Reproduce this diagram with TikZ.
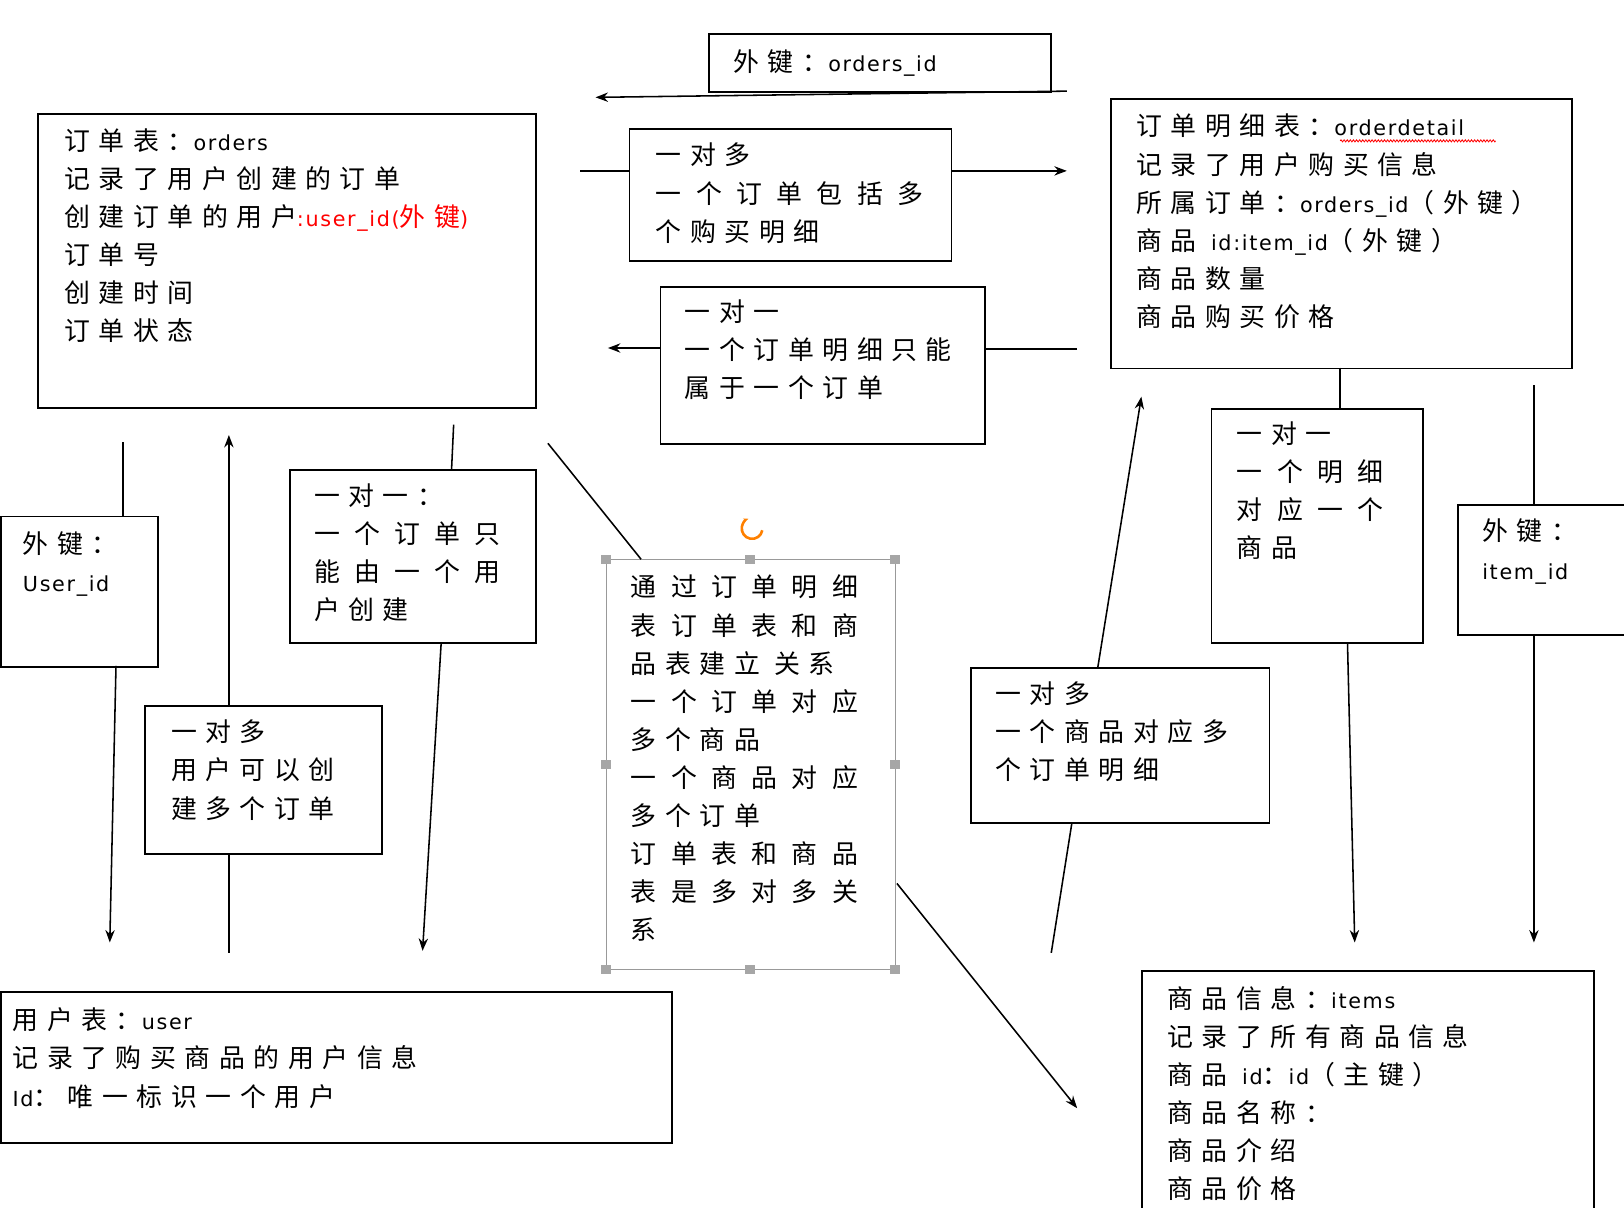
\documentclass[tikz,border=0pt]{standalone}
\usepackage{fontspec}
\setmainfont[LetterSpace=33]{Noto Sans CJK SC}
\newfontfamily\latfont[LetterSpace=8]{DejaVu Sans}
\newcommand\lat[1]{{\latfont\fontsize{20}{36.8}\selectfont #1}}
\usetikzlibrary{arrows.meta,decorations.pathmorphing}

\begin{document}
\begin{tikzpicture}[
                    x=1pt, y=-1pt,
                    >={Stealth[length=12pt,width=9pt]},
                    box/.style={draw=black, line width=1.6pt, anchor=north west, inner sep=0pt},
                    txt/.style={anchor=north west, align=left, inner sep=0pt,
                                font=\fontsize{25}{36.8}\selectfont},
                    link/.style={line width=1.5pt},
                    handle/.style={fill=gray!70, minimum size=9pt, inner sep=0pt}
                ]
                \useasboundingbox (0,0) rectangle (1568,1166);

                % tables
                \node[box, minimum width=481pt, minimum height=284pt] (orders) at (36,109) {};
                \node[txt] (orderstxt) at (62,124) {订单表：\lat{orders}\\记录了用户创建的订单\\创建订单的用户{\color{red}\lat{:user\_id(}外键\lat{)}}\\订单号\\创建时间\\订单状态};
                \node[box, minimum width=445pt, minimum height=260pt] (detail) at (1072,95) {};
                \node[txt] (detailtxt) at (1097,110) {订单明细表：\lat{orderdetail}\\记录了用户购买信息\\所属订单：\lat{orders\_id}（外键）\\商品 \lat{id:item\_id}（外键）\\商品数量\\商品购买价格};
                \draw[red, line width=0.8pt, decorate, decoration={zigzag, segment length=3pt, amplitude=1pt}] (1294,136) -- (1444,136);
                \node[box, minimum width=648pt, minimum height=146pt] (user) at (0,957) {};
                \node[txt] (usertxt) at (12,973) {用户表：\lat{user}\\记录了购买商品的用户信息\\\lat{Id}：唯一标识一个用户};
                \node[box, minimum width=436pt, minimum height=240pt] (items) at (1102,937) {};
                \node[txt] (itemstxt) at (1127,952) {商品信息：\lat{items}\\记录了所有商品信息\\商品 \lat{id}：\lat{id}（主键）\\商品名称：\\商品介绍\\商品价格};

                % keys
                \node[box, minimum width=330pt, minimum height=56pt] (fkorders) at (684,32) {};
                \node[txt] at (708,48) {外键：\lat{orders\_id}};
                \node[box, minimum width=152pt, minimum height=145pt] (fkuser) at (0,498) {};
                \node[txt] at (22,513) {外键：\\\lat{User\_id}};
                \node[box, minimum width=161pt, minimum height=125pt] (fkitem) at (1407,487) {};
                \node[txt] at (1431,501) {外键：\\\lat{item\_id}};

                % relations
                \node[box, minimum width=311pt, minimum height=127pt] (r1) at (607,124) {};
                \node[txt] at (633,138) {一对多\\一 个 订 单 包 括 多\\个购买明细};
                \node[box, minimum width=313pt, minimum height=152pt] (r2) at (637,276) {};
                \node[txt] at (661,289) {一对一\\一个订单明细只能\\属于一个订单};
                \node[box, minimum width=238pt, minimum height=167pt] (r3) at (279,453) {};
                \node[txt] at (303,467) {一对一：\\一 个 订 单 只\\能 由 一 个 用\\户创建};
                \node[box, minimum width=229pt, minimum height=143pt] (r4) at (139,681) {};
                \node[txt] at (165,695) {一对多\\用户可以创\\建多个订单};
                \node[box, minimum width=204pt, minimum height=226pt] (r5) at (1169,394) {};
                \node[txt] at (1194,407) {一对一\\一 个 明 细\\对 应 一 个\\商品};
                \node[box, minimum width=288pt, minimum height=150pt] (r6) at (937,644) {};
                \node[txt] at (961,658) {一对多\\一个商品对应多\\个订单明细};

                % selected text box
                \node[box, draw=gray!80, line width=1pt, minimum width=279pt, minimum height=396pt] (note) at (585,540) {};
                \node[txt] at (609,555) {通 过 订 单 明 细\\表 订 单 表 和 商\\品表建立  关系\\一 个 订 单 对 应\\多个商品\\一 个 商 品 对 应\\多个订单\\订 单 表 和 商 品\\表 是 多 对 多 关\\系};
                \foreach \hx/\hy in {585/540, 724/540, 864/540, 585/738, 864/738, 585/936, 724/936, 864/936}
                    \node[handle] at (\hx,\hy) {};
                \draw[orange, line width=2.5pt, ->, >={Stealth[length=5pt]}] (736,512) arc (10:250:10);

                % connectors
                \coordinate (a1) at (1030,88);   \coordinate (a2) at (575,94);
                \draw[link, ->] (a1) -- (a2);
                \coordinate (b1) at (560,165);   \coordinate (b2) at (1030,165);
                \draw[link] (b1) -- (r1.west |- b1);
                \draw[link, ->] (r1.east |- b2) -- (b2);
                \coordinate (c1) at (1040,337);  \coordinate (c2) at (587,336);
                \draw[link] (c1) -- (r2.east |- c1);
                \draw[link, ->] (r2.west |- c2) -- (c2);
                \coordinate (d1) at (119,427);   \coordinate (d2) at (106,910);
                \draw[link] (d1) -- (119,498);
                \draw[link, ->] (112,643) -- (d2);
                \coordinate (e1) at (221,920);   \coordinate (e2) at (221,420);
                \draw[link] (e1) -- (r4.south -| e1);
                \draw[link, ->] (r4.north -| e2) -- (e2);
                \coordinate (f1) at (438,410);   \coordinate (f2) at (408,918);
                \draw[link] (f1) -- (436,453);
                \draw[link, ->] (426,620) -- (f2);
                \coordinate (g1) at (529,428);
                \draw[link] (g1) -- (619,540);
                \coordinate (h1) at (866,853);   \coordinate (h2) at (1040,1070);
                \draw[link, ->] (h1) -- (h2);
                \coordinate (i1) at (1015,920);  \coordinate (i2) at (1102,383);
                \draw[link] (i1) -- (1035,794);
                \draw[link, ->] (1060,644) -- (i2);
                \coordinate (j1) at (1294,355);  \coordinate (j2) at (1308,910);
                \draw[link] (j1) -- (1294,394);
                \draw[link, ->] (1301,620) -- (j2);
                \coordinate (k1) at (1481,372);  \coordinate (k2) at (1481,910);
                \draw[link] (k1) -- (1481,487);
                \draw[link, ->] (1481,612) -- (k2);
            \end{tikzpicture}
\end{document}
